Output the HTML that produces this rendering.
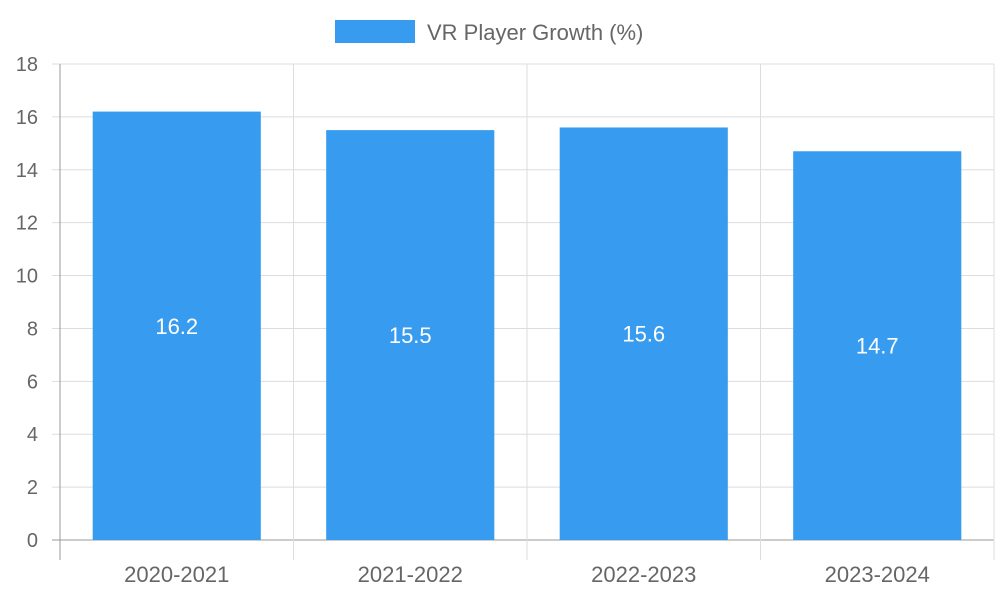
<!DOCTYPE html>
<html><head><meta charset="utf-8"><style>
body{margin:0;background:#fff;font-family:"Liberation Sans",sans-serif}
svg text{font-family:"Liberation Sans",sans-serif}
</style></head><body>
<svg id="c" width="1000" height="600">
<g id="legend">
<rect x="335" y="20" width="80" height="23" fill="#379bf0"/>
<text x="427" y="40" font-size="22" fill="#666">VR Player Growth (%)</text>
</g>
<g id="grid"></g><g id="bars"></g>
</svg>
<script>
const categories=["2020-2021","2021-2022","2022-2023","2023-2024"];
const values=[16.2,15.5,15.6,14.7];
const yTicks=[0,2,4,6,8,10,12,14,16,18];
const L=60,R=994,T=64,B=540,yMax=18;
const NS="http://www.w3.org/2000/svg";
const y=v=>B-(v/yMax)*(B-T);
const bw=(R-L)/categories.length;
const x=i=>L+bw*i;
function mk(p,tag,at,txt){const e=document.createElementNS(NS,tag);for(const k in at)e.setAttribute(k,at[k]);if(txt!=null)e.textContent=txt;p.appendChild(e);return e;}
const g=document.getElementById('grid'),b=document.getElementById('bars');
yTicks.forEach(t=>{
 const l=mk(g,'line',{x1:L-8,x2:R,y1:y(t),y2:y(t),stroke:t===0?'#999':'#ddd','stroke-width':1});
 
 
 const tx=mk(g,'text',{x:L-22,y:y(t)+7,'text-anchor':'end','font-size':20,fill:'#666'},t);
 
 
});
for(let i=0;i<=categories.length;i++){
 const l=mk(g,'line',{x1:x(i),x2:x(i),y1:T,y2:B+20,stroke:i===0?'#999':'#ddd','stroke-width':1});
 
 
}
categories.forEach((c,i)=>{
 const w=bw*0.72,cx=x(i)+bw/2;
 const r=mk(b,'rect',{x:cx-w/2,y:y(values[i]),width:w,height:B-y(values[i]),fill:'#379bf0'});
 
 
 const v=mk(b,'text',{x:cx,y:(y(values[i])+B)/2+8,'text-anchor':'middle','font-size':22,fill:'#fff'},values[i]);
 
 
 const t=mk(b,'text',{x:cx,y:582,'text-anchor':'middle','font-size':22,fill:'#666'},c);
 
 
});
</script>
</body></html>
